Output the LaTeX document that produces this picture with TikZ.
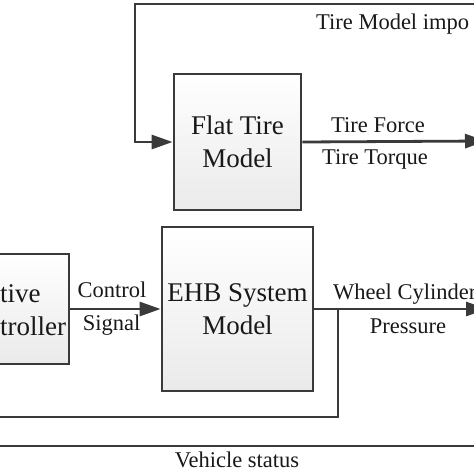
\documentclass[tikz,border=0pt]{standalone}
\usepackage{fontspec}
\setmainfont{Liberation Serif}
\usetikzlibrary{arrows.meta,positioning}
\definecolor{ehbLine}{RGB}{58,58,58}
\definecolor{ehbFill}{RGB}{234,234,234}
\definecolor{ehbText}{RGB}{25,25,25}

\begin{document}
\begin{tikzpicture}[x=1pt, y=-1pt,
  block/.style={draw=ehbLine, line width=2.8pt, top color=white, bottom color=ehbFill,
    text=ehbText, align=center, inner sep=0pt, font=\fontsize{27}{33}\selectfont},
  wire/.style={draw=ehbLine, line width=2.8pt},
  sig/.style={wire, -{Triangle[length=21pt, width=14pt]}},
  lbl/.style={text=ehbText, inner sep=0pt, font=\fontsize{22.5}{26}\selectfont}]
\useasboundingbox (0,0) rectangle (474,474);
\clip (0,0) rectangle (474,474);
\fill[white] (0,0) rectangle (474,474);
% blocks
\node[block, minimum width=127pt, minimum height=136pt] (flat) at (237.5,142) {Flat Tire\\Model};
\node[block, minimum width=151pt, minimum height=164pt] (ehb) at (237.5,309) {EHB System\\Model};
\node[block, minimum width=130pt, minimum height=110pt] (ctrl) at (4,309) {};
\node[text=ehbText, inner sep=0pt, align=left, anchor=west, font=\fontsize{27}{33}\selectfont] (ctrltxt) at (0,310) {tive\\troller};
% free ends of the lines
\coordinate (topR) at (490,4);
\coordinate (loopL) at (135,4);
\coordinate (forceEnd) at (486,141);
\coordinate (presEnd) at (487,309);
\coordinate (branch) at (338,309);
\coordinate (fbEnd) at (-20,417);
\coordinate (vsL) at (-20,446);
\coordinate (vsR) at (490,446);
% connectors
\draw[sig] (topR) -- (loopL) |- (flat.west);
\draw[sig] (flat.east) -- (forceEnd);
\draw[sig] (ctrl.east) -- (ehb.west);
\draw[sig] (ehb.east) -- (presEnd);
\draw[wire] (branch) |- (fbEnd);
\draw[wire] (vsL) -- (vsR);
% labels
\node[lbl, anchor=base west] (impo) at (316,29) {Tire Model impo};
\node[lbl, anchor=base] (force) at (378,132) {Tire Force};
\node[lbl, anchor=base] (torque) at (375,164) {Tire Torque};
\node[lbl, anchor=base] (ctl) at (112,297) {Control};
\node[lbl, anchor=base] (signal) at (111.5,330) {Signal};
\node[lbl, anchor=base west] (wheel) at (333,299) {Wheel Cylinder};
\node[lbl, anchor=base] (press) at (408,333) {Pressure};
\node[lbl, anchor=base] (status) at (237,467) {Vehicle status};
\end{tikzpicture}
\end{document}
